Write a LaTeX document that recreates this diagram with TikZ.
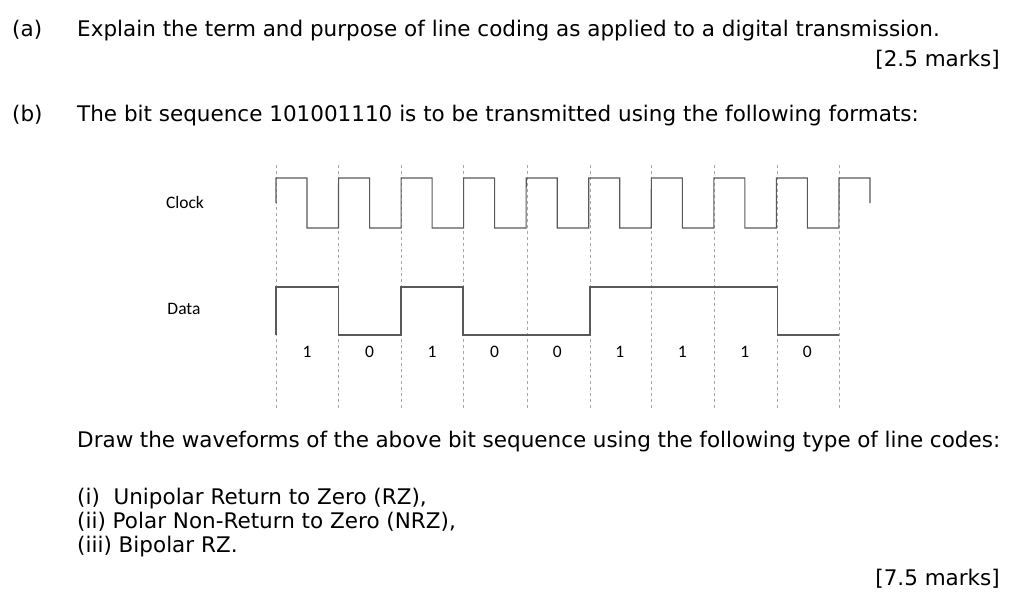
\documentclass[tikz,border=0pt]{standalone}
\usepackage{fontspec}
\setmainfont{DejaVu Sans}
\newfontfamily\carlitofont{Carlito}
\begin{document}
\begin{tikzpicture}[x=1pt,y=-1pt,
  txt/.style={anchor=base west,inner sep=0pt,font=\fontsize{21.5}{23}\selectfont},
  sml/.style={inner sep=0pt,font=\carlitofont\fontsize{17.5}{19}\selectfont},
  wave/.style={draw=black!65,line width=1.1pt},
  grid/.style={draw=black!35,dashed,line width=0.4pt}]
\useasboundingbox (0,0) rectangle (1024,603);
\node[txt] (la) at (12,36) {(a)};
\node[txt] (ta) at (77,36) {Explain the term and purpose of line coding as applied to a digital transmission.};
\node[txt,anchor=base east] (ma) at (1000,66) {[2.5 marks]};
\node[txt] (lb) at (12,121) {(b)};
\node[txt] (tb) at (77,121) {The bit sequence 101001110 is to be transmitted using the following formats:};
\node[sml] (ck) at (185,202) {Clock};
\node[sml] (dt) at (184,309) {Data};
\foreach \x in {276,338.5,401,463,527,590,651,714,777.5,839}
  \draw[grid] (\x,165) -- (\x,410);
\draw[wave] (276,203) \foreach \i in {0,...,8} {
   -- ({276+62.55*\i},178) -- ({307+62.55*\i},178) -- ({307+62.55*\i},228) -- ({338.5+62.55*\i},228)}
   -- (839,178) -- (870,178) -- (870,203);
\draw[wave] (276,335) -- (276,287) -- (338.5,287) -- (338.5,335) -- (401,335) -- (401,287) -- (463,287)
   -- (463,335) -- (590,335) -- (590,287) -- (777.5,287) -- (777.5,335) -- (839,335);
\foreach \b [count=\i from 0] in {1,0,1,0,0,1,1,1,0}
  \node[sml] (b\i) at ({307+62.55*\i},352) {\b};
\node[txt,anchor=north west,text width=923pt,align=justify,font=\fontsize{21.5}{22}\selectfont] (d1) at (77,431) {Draw the waveforms of the above bit sequence using the following type of line codes:};
\node[txt] (d3) at (77,504) {(i)\ \ Unipolar Return to Zero (RZ),};
\node[txt] (d4) at (77,528) {(ii) Polar Non-Return to Zero (NRZ),};
\node[txt] (d5) at (77,552) {(iii) Bipolar RZ.};
\node[txt,anchor=base east] (mb) at (1000,585) {[7.5 marks]};
\end{tikzpicture}
\end{document}
